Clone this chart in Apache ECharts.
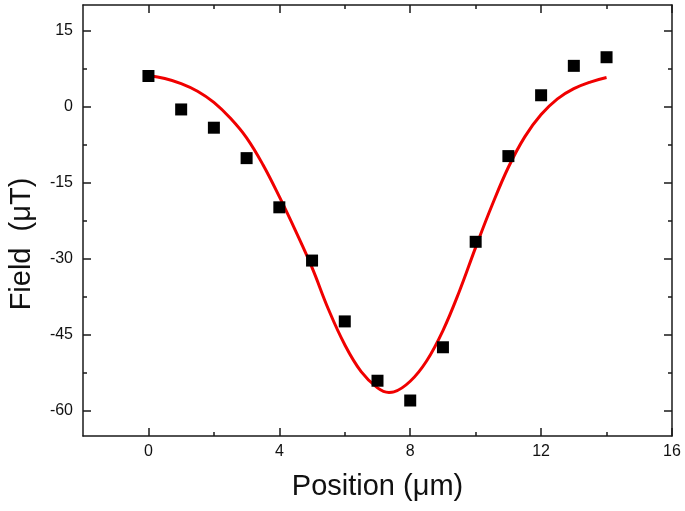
<!DOCTYPE html>
<html>
<head>
<meta charset="utf-8">
<script src="https://cdn.jsdelivr.net/npm/echarts@6/dist/echarts.min.js"></script>
<style>
html,body{margin:0;padding:0;background:#fff;}
#chart{width:685px;height:511px;}
</style>
</head>
<body>
<div id="chart"></div>
<script>
// Measured data (squares)
const positions = [0, 1, 2, 3, 4, 5, 6, 7, 8, 9, 10, 11, 12, 13, 14];
const fieldValues = [6.0, -0.6, -4.2, -10.2, -19.9, -30.4, -42.4, -54.1, -58.0, -47.5, -26.7, -9.8, 2.2, 8.0, 9.7];

// Fitted curve (red line)
const fitX = [0, 0.5, 1, 1.5, 2, 2.5, 3, 3.5, 4, 4.5, 5, 5.5, 6, 6.5, 7, 7.35, 7.5, 8, 8.5, 9, 9.5, 10, 10.5, 11, 11.5, 12, 12.5, 13, 13.5, 14];
const fitY = [6.1, 5.5, 4.5, 3.0, 0.8, -2.3, -6.2, -11.5, -17.8, -24.6, -31.8, -40.0, -47.0, -52.3, -55.5, -56.4, -56.3, -54.2, -50.2, -44.2, -36.5, -27.8, -19.5, -12.0, -6.0, -1.6, 1.5, 3.5, 4.8, 5.7];

// Axis ticks
const xMajorTicks = [0, 4, 8, 12, 16];
const xMinorTicks = [2, 6, 10, 14];
const yMajorTicks = [-60, -45, -30, -15, 0, 15];
const yMinorTicks = [-52.5, -37.5, -22.5, -7.5, 7.5];

const xTitle = 'Position (μm)';
const yTitle = 'Field  (μT)';

const AX = '#1a1a1a';
const FONT = '"Liberation Sans", Arial, sans-serif';

function xAx(pos, ticks, len, showLine, showLabel, name) {
  return {
    type: 'value', position: pos, min: -2, max: 16,
    axisLine: { show: showLine, onZero: false, lineStyle: { color: AX, width: 1.5 } },
    axisTick: { show: true, inside: true, length: len, customValues: ticks, lineStyle: { color: AX, width: 1.5 } },
    axisLabel: { show: showLabel, customValues: ticks, margin: 8, fontSize: 16, color: '#111', fontFamily: FONT },
    splitLine: { show: false },
    name: name || '', nameLocation: 'middle', nameGap: 36,
    nameTextStyle: { fontSize: 29, color: '#111', fontFamily: FONT }
  };
}
function yAx(pos, ticks, len, showLine, showLabel) {
  return {
    type: 'value', position: pos, min: -65, max: 20,
    axisLine: { show: showLine, onZero: false, lineStyle: { color: AX, width: 1.5 } },
    axisTick: { show: true, inside: true, length: len, customValues: ticks, lineStyle: { color: AX, width: 1.5 } },
    axisLabel: { show: showLabel, customValues: ticks, margin: 10, fontSize: 16, color: '#111', fontFamily: FONT },
    splitLine: { show: false }
  };
}

const chart = echarts.init(document.getElementById('chart'));
chart.setOption({
  backgroundColor: '#fff',
  animation: false,
  grid: { left: 83, right: 13, top: 5, bottom: 75, containLabel: false, outerBoundsMode: 'none' },
  xAxis: [
    xAx('bottom', xMajorTicks, 8, true, true, xTitle),
    xAx('bottom', xMinorTicks, 4, false, false),
    xAx('top', xMajorTicks, 8, true, false),
    xAx('top', xMinorTicks, 4, false, false)
  ],
  yAxis: [
    yAx('left', yMajorTicks, 8, true, true),
    yAx('left', yMinorTicks, 4, false, false),
    yAx('right', yMajorTicks, 8, true, false),
    yAx('right', yMinorTicks, 4, false, false)
  ],
  graphic: [{
    type: 'text', x: 22, y: 244, rotation: Math.PI / 2,
    style: { text: yTitle, font: '29px ' + FONT, fill: '#111', align: 'center', verticalAlign: 'middle' }
  }],
  series: [
    {
      type: 'line', xAxisIndex: 0, yAxisIndex: 0,
      data: fitX.map((x, i) => [x, fitY[i]]),
      smooth: 0.4, showSymbol: false, z: 2,
      lineStyle: { color: '#f00000', width: 3 }
    },
    {
      type: 'scatter', xAxisIndex: 0, yAxisIndex: 0,
      data: positions.map((x, i) => [x, fieldValues[i]]),
      symbol: 'rect', symbolSize: 12, z: 3,
      itemStyle: { color: '#000', opacity: 1 }
    }
  ]
});
</script>
</body>
</html>
